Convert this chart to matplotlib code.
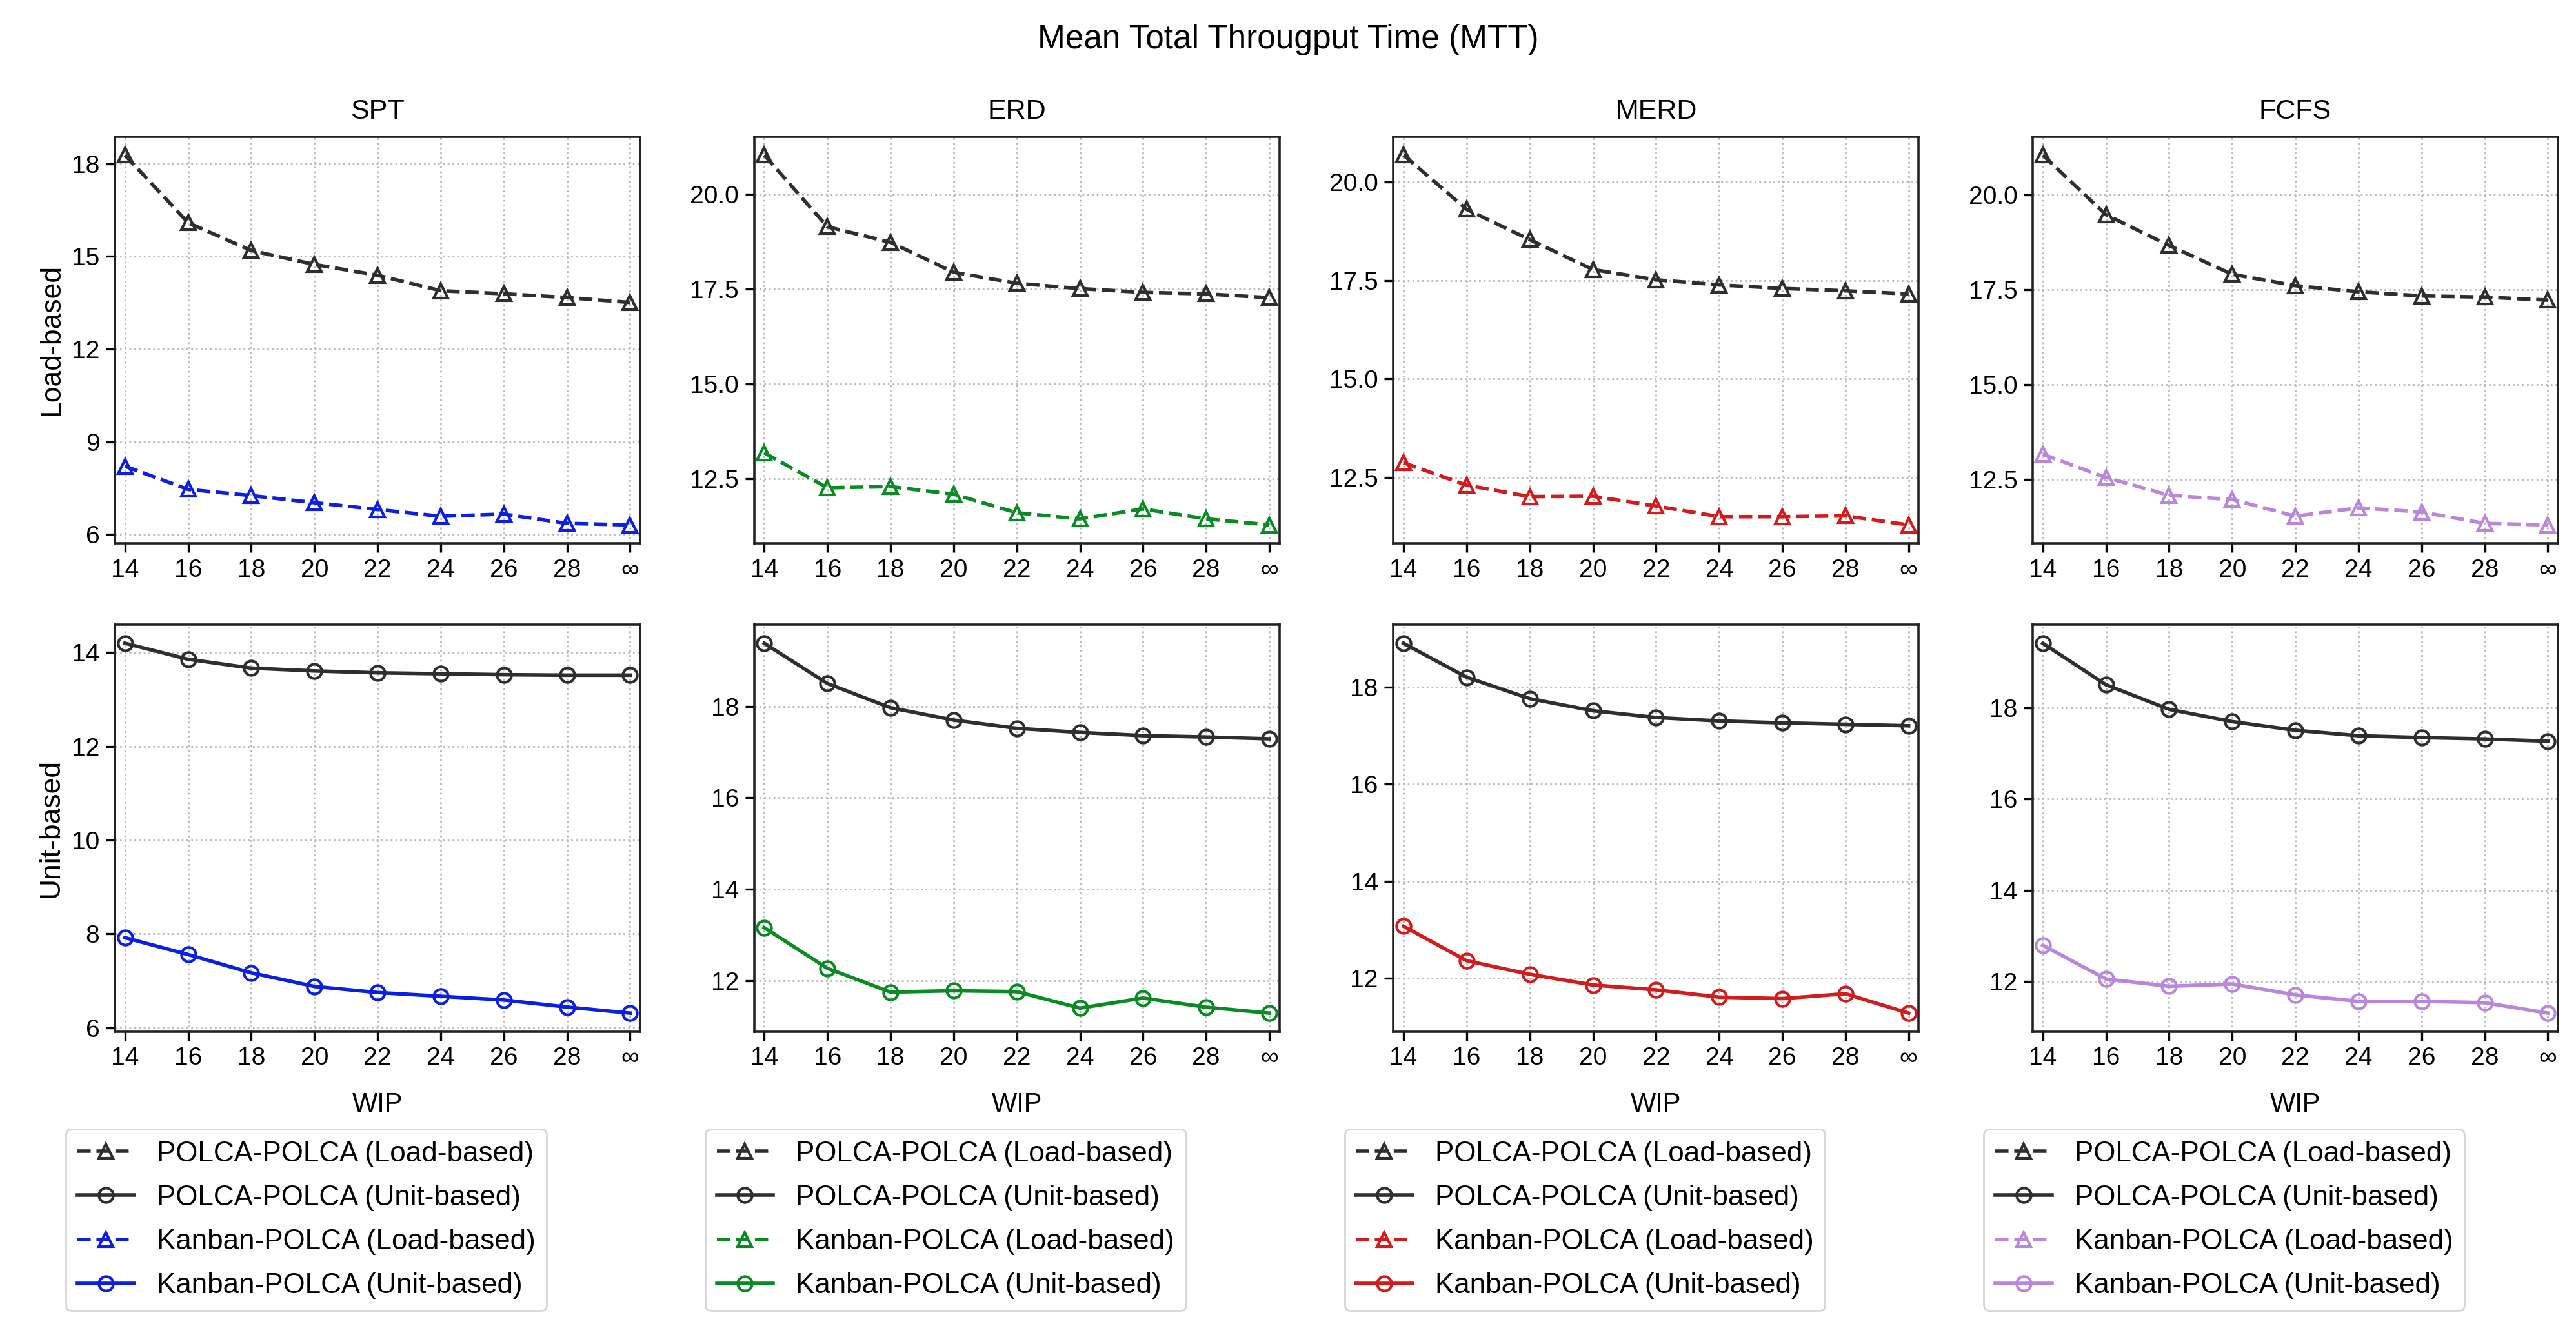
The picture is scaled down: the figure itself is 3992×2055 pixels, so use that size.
"""
Mean Total Througput Time (MTT) – POLCA-POLCA vs Kanban-POLCA
dla czterech reguł priorytetu (SPT, ERD, MERD, FCFS).
"""
import matplotlib
matplotlib.use("Agg")
import matplotlib.pyplot as plt

plt.rcParams["font.family"] = ["Liberation Sans", "DejaVu Sans"]

wip_labels = ["14", "16", "18", "20", "22", "24", "26", "28", "∞"]
rules = ["SPT", "ERD", "MERD", "FCFS"]
rule_colors = ["#0a1ee6", "#0a8a23", "#d41a1a", "#b985dd"]

# POLCA-POLCA / Kanban-POLCA, load-based (górny rząd)
polca_load = {
    "SPT":  [18.28, 16.09, 15.19, 14.74, 14.39, 13.89, 13.79, 13.67, 13.51],
    "ERD":  [21.04, 19.15, 18.74, 17.95, 17.66, 17.52, 17.42, 17.38, 17.28],
    "MERD": [20.69, 19.31, 18.54, 17.78, 17.52, 17.39, 17.30, 17.24, 17.16],
    "FCFS": [21.04, 19.47, 18.66, 17.90, 17.60, 17.44, 17.33, 17.30, 17.22],
}
kanban_load = {
    "SPT":  [8.21, 7.46, 7.26, 7.03, 6.81, 6.59, 6.66, 6.36, 6.31],
    "ERD":  [13.19, 12.27, 12.30, 12.10, 11.61, 11.45, 11.71, 11.45, 11.29],
    "MERD": [12.87, 12.30, 12.01, 12.02, 11.77, 11.50, 11.50, 11.52, 11.29],
    "FCFS": [13.16, 12.55, 12.08, 11.97, 11.53, 11.75, 11.64, 11.34, 11.30],
}
# unit-based (dolny rząd)
polca_unit = {
    "SPT":  [14.20, 13.86, 13.67, 13.61, 13.57, 13.55, 13.53, 13.52, 13.52],
    "ERD":  [19.38, 18.50, 17.97, 17.70, 17.52, 17.43, 17.36, 17.33, 17.29],
    "MERD": [18.90, 18.20, 17.76, 17.51, 17.37, 17.30, 17.26, 17.23, 17.20],
    "FCFS": [19.42, 18.51, 17.97, 17.70, 17.51, 17.39, 17.35, 17.32, 17.27],
}
kanban_unit = {
    "SPT":  [7.92, 7.56, 7.17, 6.88, 6.75, 6.67, 6.59, 6.44, 6.31],
    "ERD":  [13.16, 12.27, 11.75, 11.78, 11.76, 11.40, 11.62, 11.42, 11.29],
    "MERD": [13.07, 12.36, 12.08, 11.86, 11.76, 11.61, 11.58, 11.68, 11.28],
    "FCFS": [12.79, 12.05, 11.89, 11.94, 11.70, 11.56, 11.56, 11.53, 11.30],
}

top_ticks = {
    "SPT":  [6, 9, 12, 15, 18],
    "ERD":  [12.5, 15.0, 17.5, 20.0],
    "MERD": [12.5, 15.0, 17.5, 20.0],
    "FCFS": [12.5, 15.0, 17.5, 20.0],
}
bottom_ticks = {
    "SPT":  [6, 8, 10, 12, 14],
    "ERD":  [12, 14, 16, 18],
    "MERD": [12, 14, 16, 18],
    "FCFS": [12, 14, 16, 18],
}

x = list(range(len(wip_labels)))
dark = "#2e2e2e"
line_kw = dict(lw=2, ms=8, mfc="none", mew=1.5)

fig, axes = plt.subplots(2, 4, figsize=(19.96, 10.275), dpi=200)
fig.subplots_adjust(left=0.0446, right=0.993, top=0.897, bottom=0.222,
                    wspace=0.217, hspace=0.2)

for j, rule in enumerate(rules):
    col = rule_colors[j]
    ax_t, ax_b = axes[0, j], axes[1, j]

    ax_t.plot(x, polca_load[rule], ls="--", color=dark, marker="^", **line_kw)
    ax_t.plot(x, kanban_load[rule], ls="--", color=col, marker="^", **line_kw)
    ax_b.plot(x, polca_unit[rule], ls="-", color=dark, marker="o", **line_kw)
    ax_b.plot(x, kanban_unit[rule], ls="-", color=col, marker="o", **line_kw)

    ax_t.set_title(rule, fontsize=15.5, pad=10)
    ax_t.set_yticks(top_ticks[rule])
    ax_b.set_yticks(bottom_ticks[rule])
    if rule != "SPT":
        ax_t.set_yticklabels([f"{t:.1f}" for t in top_ticks[rule]])

    for ax in (ax_t, ax_b):
        ax.set_xticks(x)
        ax.set_xticklabels(wip_labels)
        ax.set_xlim(-0.16, len(x) - 1 + 0.16)
        ax.tick_params(labelsize=14, width=1.2, length=5)
        ax.grid(True, ls=":", color="#b8b8b8", lw=1)
        for s in ax.spines.values():
            s.set_linewidth(1.3)
            s.set_color("#222222")

    ax_b.set_xlabel("WIP", fontsize=15, labelpad=12)

    handles = [
        plt.Line2D([], [], ls="--", color=dark, marker="^", **line_kw),
        plt.Line2D([], [], ls="-", color=dark, marker="o", **line_kw),
        plt.Line2D([], [], ls="--", color=col, marker="^", **line_kw),
        plt.Line2D([], [], ls="-", color=col, marker="o", **line_kw),
    ]
    labels = ["POLCA-POLCA (Load-based)", "POLCA-POLCA (Unit-based)",
              "Kanban-POLCA (Load-based)", "Kanban-POLCA (Unit-based)"]
    ax_b.legend(handles, labels, loc="upper left", bbox_to_anchor=(-0.12, -0.205),
                fontsize=15.8, frameon=True, labelspacing=0.62)

axes[0, 0].set_ylabel("Load-based", fontsize=16)
axes[1, 0].set_ylabel("Unit-based", fontsize=16)

fig.suptitle("Mean Total Througput Time (MTT)", fontsize=18.5, y=0.982)

fig.savefig("out.png", dpi=200)
plt.close(fig)
